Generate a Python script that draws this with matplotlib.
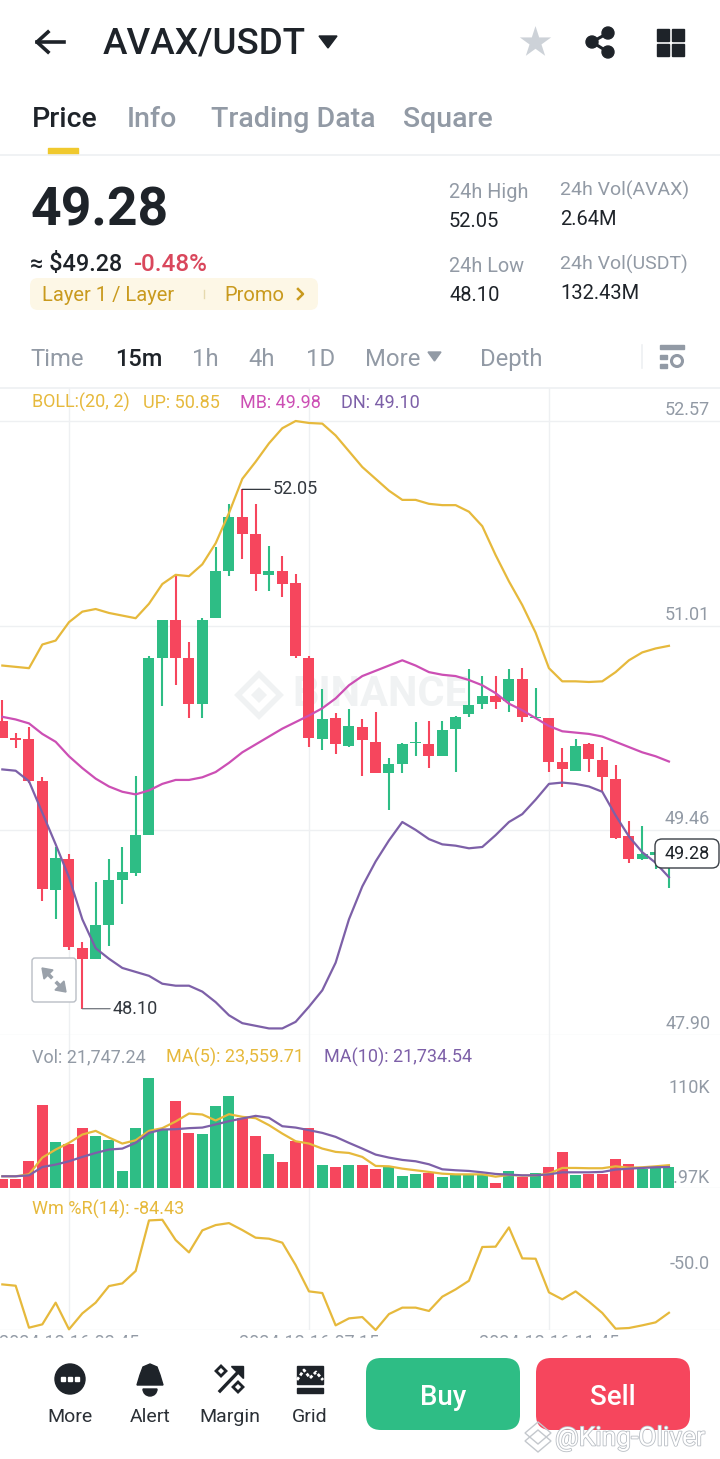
#!/usr/bin/env python3
"""AVAX/USDT 15m candle screen with BOLL, volume and Williams %R panels."""

import matplotlib
matplotlib.use("Agg")
import matplotlib.pyplot as plt
import matplotlib.patheffects as pe
from matplotlib.patches import Circle, FancyBboxPatch, Polygon, Rectangle, Wedge

plt.rcParams["font.family"] = ["Roboto", "DejaVu Sans"]

GREEN = "#2EBD85"
RED = "#F6465D"
YELLOW = "#E6B93C"
PINK = "#CC4FB4"
PURPLE = "#7D60A8"
DARK = "#1E2329"
GREY = "#929AA5"
GRID = "#EEF0F2"

# candles
opens = [50.29, 50.16, 50.15, 49.83, 49.00, 49.24, 48.56, 48.48, 48.74, 49.08,
         49.13, 49.42, 50.77, 51.06, 50.77, 50.42, 51.07, 51.43, 51.84, 51.71,
         51.40, 51.43, 51.34, 50.77, 50.15, 50.31, 50.10, 50.24, 50.13, 49.89,
         49.96, 50.12, 50.11, 50.02, 50.23, 50.34, 50.42, 50.48, 50.44, 50.61,
         50.31, 50.31, 49.98, 49.91, 50.11, 49.99, 49.85, 49.41, 49.24, 49.27,
         49.27]
closes = [50.16, 50.14, 49.83, 49.01, 49.25, 48.57, 48.48, 48.74, 49.08, 49.14,
          49.42, 50.77, 51.06, 50.77, 50.42, 51.06, 51.43, 51.84, 51.71, 51.41,
          51.43, 51.33, 50.78, 50.16, 50.30, 50.11, 50.25, 50.14, 49.89, 49.96,
          50.11, 50.13, 50.02, 50.22, 50.32, 50.41, 50.48, 50.43, 50.61, 50.32,
          50.32, 49.98, 49.92, 50.10, 50.00, 49.86, 49.40, 49.24, 49.28, 49.29,
          49.28]
highs = [50.45, 50.20, 50.24, 49.86, 49.33, 49.28, 48.61, 49.06, 49.24, 49.33,
         49.87, 50.78, 51.06, 51.39, 50.89, 51.07, 51.61, 51.94, 52.05, 51.94,
         51.62, 51.54, 51.41, 50.78, 50.53, 50.35, 50.38, 50.30, 50.36, 50.01,
         50.12, 50.28, 50.29, 50.29, 50.33, 50.68, 50.63, 50.63, 50.68, 50.69,
         50.54, 50.31, 50.08, 50.15, 50.12, 50.09, 49.95, 49.53, 49.49, 49.32,
         49.30]
lows = [50.16, 50.08, 49.82, 48.92, 48.78, 48.55, 48.10, 48.48, 48.58, 48.90,
        49.11, 49.42, 50.40, 50.56, 50.31, 50.31, 51.07, 51.39, 51.52, 51.28,
        51.28, 51.23, 50.77, 50.09, 50.07, 50.04, 50.09, 49.87, 49.89, 49.61,
        49.89, 50.02, 49.93, 50.02, 49.90, 50.32, 50.38, 50.38, 50.36, 50.28,
        50.31, 49.90, 49.79, 49.91, 49.90, 49.75, 49.39, 49.21, 49.23, 49.16,
        49.02]

# bollinger bands
boll_up = [50.71, 50.70, 50.69, 50.87, 50.90, 51.04, 51.12, 51.14, 51.11, 51.09,
           51.07, 51.18, 51.33, 51.40, 51.39, 51.48, 51.64, 51.87, 52.13, 52.26,
           52.40, 52.515, 52.57, 52.555, 52.55, 52.46, 52.34, 52.22, 52.13, 52.04,
           51.97, 51.97, 51.94, 51.93, 51.93, 51.88, 51.77, 51.55, 51.35, 51.17,
           50.96, 50.69, 50.59, 50.59, 50.585, 50.59, 50.66, 50.75, 50.81, 50.84,
           50.86]
boll_mb = [50.32, 50.30, 50.27, 50.19, 50.13, 50.02, 49.93, 49.85, 49.79, 49.75,
           49.73, 49.76, 49.81, 49.84, 49.84, 49.86, 49.90, 49.97, 50.05, 50.11,
           50.17, 50.23, 50.28, 50.33, 50.385, 50.46, 50.56, 50.63, 50.67, 50.71,
           50.75, 50.71, 50.66, 50.64, 50.63, 50.60, 50.56, 50.50, 50.42, 50.37,
           50.31, 50.25, 50.21, 50.20, 50.19, 50.17, 50.13, 50.09, 50.05, 50.02,
           49.98]
boll_dn = [49.92, 49.91, 49.83, 49.59, 49.35, 49.10, 48.78, 48.56, 48.48, 48.41,
           48.38, 48.35, 48.29, 48.275, 48.275, 48.23, 48.15, 48.05, 47.99, 47.97,
           47.95, 47.95, 48.00, 48.115, 48.24, 48.45, 48.78, 49.03, 49.22, 49.38,
           49.52, 49.46, 49.39, 49.35, 49.34, 49.32, 49.33, 49.42, 49.52, 49.58,
           49.69, 49.81, 49.82, 49.81, 49.79, 49.75, 49.57, 49.41, 49.29, 49.21,
           49.10]

# volume, in thousands
volume = [9.7, 9.7, 27.9, 85.6, 47.6, 45.2, 62.1, 53.5, 49.3, 17.3,
          61.8, 113.9, 59.7, 89.4, 57.3, 55.5, 84.2, 95.2, 71.8, 54.2,
          35.5, 26.6, 48.6, 61.8, 23.5, 22.1, 23.5, 23.8, 20.0, 21.4,
          12.4, 14.8, 15.9, 11.0, 13.8, 13.1, 13.1, 5.5, 17.3, 11.4,
          15.9, 21.7, 36.9, 13.5, 14.1, 14.5, 30.4, 24.5, 20.0, 20.7,
          21.7]
vol_ma5 = [12.1, 12.1, 14.1, 31.4, 39.7, 46.6, 55.2, 59.0, 52.1, 45.9,
           49.3, 59.0, 61.8, 68.7, 76.9, 75.9, 69.7, 76.2, 73.5, 72.1,
           64.9, 56.2, 48.3, 45.9, 40.7, 37.3, 36.2, 32.1, 22.8, 22.4,
           20.0, 18.3, 16.6, 14.8, 14.1, 14.1, 14.1, 11.7, 13.5, 12.8,
           13.1, 14.8, 20.7, 20.7, 20.4, 20.4, 22.4, 21.0, 21.4, 22.4,
           23.6]
vol_ma10 = [12.1, 12.1, 13.1, 21.7, 24.2, 27.6, 32.1, 36.2, 39.7, 40.7,
            46.6, 56.9, 60.4, 60.7, 61.8, 62.4, 65.6, 69.0, 71.8, 74.5,
            72.5, 63.8, 62.4, 59.7, 56.9, 52.8, 46.6, 40.7, 34.5, 31.4,
            29.0, 27.6, 24.5, 19.3, 18.3, 17.6, 16.2, 14.5, 13.8, 13.1,
            13.1, 14.1, 16.2, 16.2, 16.2, 16.6, 19.0, 20.0, 20.7, 21.4,
            21.7]

# williams %R
wm_r = [-58.8, -60.0, -97.9, -94.9, -75.3, -99.4, -85.0, -75.3, -60.3, -57.9,
        -46.7, -1.0, -0.4, -18.7, -29.9, -10.0, -5.2, -3.4, -9.7, -16.6,
        -17.5, -21.1, -41.3, -65.1, -66.6, -95.8, -89.5, -88.3, -100.0, -85.6,
        -79.8, -79.8, -82.8, -69.9, -63.3, -55.5, -25.0, -24.7, -7.3, -35.3,
        -35.6, -66.0, -72.3, -65.1, -74.4, -84.6, -98.8, -98.2, -95.8, -93.1,
        -84.43]

price_ticks = [52.57, 51.01, 49.46, 47.90]
time_idx = [5, 23, 41]
time_labels = ["2024-12-16 02:45", "2024-12-16 07:15", "2024-12-16 11:45"]
tabs = ["Price", "Info", "Trading Data", "Square"]
intervals = ["Time", "15m", "1h", "4h", "1D", "More", "Depth"]

W, H = 720, 1459
xs = list(range(len(closes)))
colors = [GREEN if c >= o else RED for o, c in zip(opens, closes)]
XLIM = (-0.175, 53.83)
LABEL_X = 710 / 13.33 - 0.175


def panel(fig, top, bottom):
    """Full-width axes between two pixel rows."""
    ax = fig.add_axes([0, (H - bottom) / H, 1, (bottom - top) / H])
    ax.set_xlim(*XLIM)
    ax.set_xticks(time_idx)
    ax.set_xticklabels([])
    ax.tick_params(length=0)
    ax.grid(True, color=GRID, linewidth=1.0)
    ax.set_axisbelow(True)
    for spine in ax.spines.values():
        spine.set_visible(False)
    return ax


def txt(x, y, s, size=14, color=DARK, weight="normal", ha="left", **kw):
    # va=center sits a bit high for these fonts
    return ui.text(x, y + 1.5, s, fontsize=size, color=color, fontweight=weight,
                   ha=ha, va="center", **kw)


def rbox(x0, y0, x1, y1, r, **kw):
    box = FancyBboxPatch((x0 + r, y0 + r), x1 - x0 - 2 * r, y1 - y0 - 2 * r,
                         boxstyle=f"round,pad={r},rounding_size={r}", **kw)
    ui.add_patch(box)
    return box


fig = plt.figure(figsize=(W / 100, H / 100), dpi=100, facecolor="white")

# price panel
ax = panel(fig, 388, 1035)
ax.set_ylim(47.90, 52.821)
ax.set_yticks(price_ticks)
ax.set_yticklabels([])
ax.vlines(xs, lows, highs, colors=colors, linewidth=1.5, zorder=2)
ax.bar(xs, [c - o for o, c in zip(opens, closes)], bottom=opens, width=0.825,
       color=colors, zorder=3)
ax.plot(xs, boll_up, color=YELLOW, linewidth=1.6, zorder=4)
ax.plot(xs, boll_mb, color=PINK, linewidth=1.6, zorder=4)
ax.plot(xs, boll_dn, color=PURPLE, linewidth=1.6, zorder=4)
for tick in price_ticks:
    ax.annotate(f"{tick:.2f}", xy=(1, tick), xycoords=("axes fraction", "data"),
                xytext=(-7, 8), textcoords="offset points", ha="right",
                va="center", fontsize=13, color=GREY, zorder=1)

hi_i = highs.index(max(highs))
lo_i = lows.index(min(lows))
ax.annotate(f"{highs[hi_i]:.2f}", xy=(hi_i, highs[hi_i]), xytext=(22, 0),
            textcoords="offset points", ha="left", va="center", fontsize=13,
            color="#33383F", zorder=5,
            arrowprops=dict(arrowstyle="-", color="#33383F", linewidth=0.9,
                            shrinkA=0, shrinkB=0))
ax.annotate(f"{lows[lo_i]:.2f}", xy=(lo_i, lows[lo_i]), xytext=(22, 0),
            textcoords="offset points", ha="left", va="center", fontsize=13,
            color="#33383F", zorder=5,
            arrowprops=dict(arrowstyle="-", color="#6F747B", linewidth=0.9,
                            shrinkA=0, shrinkB=0))

# volume panel
vax = panel(fig, 1035, 1188)
vax.set_ylim(0, 158)
vax.set_yticks([0])
vax.set_yticklabels([])
vax.bar(xs, volume, width=0.825, color=colors, zorder=3)
vax.plot(xs, vol_ma5, color=YELLOW, linewidth=1.6, zorder=4)
vax.plot(xs, vol_ma10, color=PURPLE, linewidth=1.6, zorder=5)
vax.text(LABEL_X, 103, "110K", ha="right", va="center", fontsize=13, color=GREY, zorder=1)
vax.text(LABEL_X, 10.5, "5.97K", ha="right", va="center", fontsize=13, color=GREY, zorder=1)

# williams panel
wax = panel(fig, 1188, 1330)
wax.set_ylim(-100, 28.3)
wax.set_yticks([-100])
wax.set_yticklabels([])
wax.plot(xs, wm_r, color=YELLOW, linewidth=1.6, clip_on=False, zorder=4)
wax.text(LABEL_X, -40, "-50.0", ha="right", va="center", fontsize=13, color=GREY, zorder=1)

# overlay in pixel coordinates for the app chrome
ui = fig.add_axes([0, 0, 1, 1], zorder=10)
ui.set_xlim(0, W)
ui.set_ylim(H, 0)
ui.axis("off")
ui.patch.set_alpha(0)

# faint exchange mark behind the candles
ax.text(380, 695, "BINANCE", transform=ui.transData, fontsize=30, fontweight="bold",
        color="#F0F2F3", ha="center", va="center", zorder=1)
ax.add_patch(Polygon([(259, 674), (280, 695), (259, 716), (238, 695)], closed=True,
                     facecolor="none", edgecolor="#F0F2F3", linewidth=4,
                     transform=ui.transData, zorder=1))
ax.add_patch(Polygon([(259, 687), (267, 695), (259, 703), (251, 695)], closed=True,
                     facecolor="#F0F2F3", transform=ui.transData, zorder=1))

# header
ui.plot([37, 64], [42, 42], color=DARK, linewidth=2.6)
ui.plot([48, 37, 48], [32, 42, 52], color=DARK, linewidth=2.6)
txt(103, 43, "AVAX/USDT", size=26.5, weight="medium")
ui.add_patch(Polygon([(319, 36), (337, 36), (328, 48)], closed=True, color=DARK))
ui.scatter([535], [42], marker="*", s=560, color="#CDD2D8", linewidths=0)
ui.plot([608, 592, 608], [33, 42, 52], color=DARK, linewidth=2.2)
for cx, cy in [(592, 42), (608, 33), (608, 52)]:
    ui.add_patch(Circle((cx, cy), 6, color=DARK))
for sx, sy in [(657, 29), (672, 29), (657, 44), (672, 44)]:
    ui.add_patch(Rectangle((sx, sy), 11.5, 11.5, color=DARK))

# tabs
for label, x, col in zip(tabs, [32, 127, 211, 403], [DARK, GREY, GREY, GREY]):
    txt(x, 118, label, size=20.5, color=col, weight="medium")
ui.add_patch(Rectangle((48, 148), 30, 6, color="#F0C92E"))
ui.plot([0, W], [154.5, 154.5], color=GRID, linewidth=1.2)

# quote block
txt(31, 210, "49.28", size=38.5, weight="bold")
txt(30, 263, "≈ $49.28", size=16.8, weight="medium")
txt(133, 263, "-0.48%", size=17.5, color="#D9475C", weight="medium")
rbox(30, 278, 318, 310, 8, facecolor="#FDF7E6", edgecolor="none")
txt(42, 294, "Layer 1 / Layer", size=14.5, color="#C99A1E")
ui.plot([204, 204], [290, 298], color="#E6D9AE", linewidth=1)
txt(224, 294, "Promo", size=14.5, color="#C99A1E")
ui.plot([298, 303, 298], [289, 294, 299], color="#C99A1E", linewidth=1.8)

txt(449, 191, "24h High", size=14.3, color=GREY)
txt(449, 220, "52.05", size=14.5)
txt(449, 265, "24h Low", size=14.3, color=GREY)
txt(449, 294, "48.10", size=14.5)
txt(560, 189, "24h Vol(AVAX)", size=14, color=GREY)
txt(560, 218, "2.64M", size=14.5)
txt(560, 263, "24h Vol(USDT)", size=14, color=GREY)
txt(560, 292, "132.43M", size=14.5)

# interval row
for label, x in zip(intervals, [30, 115, 192, 248, 306, 365, 480]):
    if label == "15m":
        txt(x, 358, label, size=17, weight="medium")
    else:
        txt(x, 358, label, size=17.2, color=GREY)
ui.add_patch(Polygon([(428, 352), (441, 352), (434.5, 361)], closed=True, color=GREY))
ui.plot([642, 642], [345, 368], color=GRID, linewidth=1.2)
ui.add_patch(Rectangle((660, 345), 24, 3.5, color=GREY))
ui.add_patch(Rectangle((660, 355), 7, 3.5, color=GREY))
ui.add_patch(Rectangle((660, 364), 7, 3.5, color=GREY))
ui.add_patch(Circle((677, 361), 5.5, fill=False, edgecolor=GREY, linewidth=2.2))
ui.plot([0, W], [387.5, 387.5], color=GRID, linewidth=1.2)

# legends
for x, y, s, col in [(32, 401, "BOLL:(20, 2)", YELLOW), (143, 401, "UP: 50.85", YELLOW),
                     (240, 401, "MB: 49.98", PINK), (341, 401, "DN: 49.10", PURPLE),
                     (32, 1056, "Vol: 21,747.24", GREY),
                     (166, 1056, "MA(5): 23,559.71", YELLOW),
                     (324, 1056, "MA(10): 21,734.54", PURPLE),
                     (32, 1208, "Wm %R(14): -84.43", YELLOW)]:
    txt(x, y, s, size=13, color=col)

# last price tag and expand button
rbox(655, 839, 719, 868, 7, facecolor="white", edgecolor="#3A3F46", linewidth=1)
txt(687, 852.5, "49.28", size=13, ha="center")
rbox(32, 958, 76, 1002, 3, facecolor="white", edgecolor="#B9BEC5", linewidth=1)
ui.plot([46, 51], [972, 977], color="#9AA1AA", linewidth=2.6)
ui.plot([57, 62], [983, 988], color="#9AA1AA", linewidth=2.6)
ui.add_patch(Polygon([(42, 968), (53, 970), (44, 979)], closed=True, color="#9AA1AA"))
ui.add_patch(Polygon([(66, 992), (55, 990), (64, 981)], closed=True, color="#9AA1AA"))

# clipped time labels under the last panel
for i, label in zip(time_idx, time_labels):
    txt(2.33 + 13.33 * i, 1342, label, size=13, color=GREY, ha="center")
ui.add_patch(Rectangle((0, 1338), W, H - 1338, color="white", zorder=3))

# bottom bar
Z = 4
ui.add_patch(Circle((70, 1379), 15, color=DARK, zorder=Z))
for dx in (-7, 0, 7):
    ui.add_patch(Rectangle((70 + dx - 1.7, 1377.3), 3.4, 3.4, color="white", zorder=Z + 1))
ui.add_patch(Polygon([(137, 1385), (140, 1375), (143, 1367), (150, 1364), (157, 1367),
                      (160, 1375), (163, 1385)], closed=True, color=DARK, zorder=Z))
ui.add_patch(Wedge((150, 1389), 7, 0, 180, color=DARK, zorder=Z))
ui.plot([220, 241], [1391, 1369], color=DARK, linewidth=2.4, zorder=Z)
ui.add_patch(Polygon([(231, 1366), (243, 1366), (243, 1378)], closed=True, color=DARK, zorder=Z))
for cx, cy in [(221, 1371), (238, 1387)]:
    ui.add_patch(Polygon([(cx - 5, cy), (cx, cy - 5), (cx + 5, cy), (cx, cy + 5)],
                         closed=True, facecolor="white", edgecolor=DARK, linewidth=2, zorder=Z))
ui.add_patch(Rectangle((297, 1366), 26, 18, color=DARK, zorder=Z))
ui.plot([297, 304, 310, 316, 323], [1380, 1370, 1378, 1372, 1380], color="white",
        linewidth=2, linestyle=(0, (1.2, 0.8)), zorder=Z + 1)
ui.add_patch(Rectangle((297, 1388), 26, 4.5, color=DARK, zorder=Z))
for label, x in zip(["More", "Alert", "Margin", "Grid"], [70, 150, 230, 310]):
    t = txt(x, 1415, label, size=14, ha="center", color="#2B3036")
    t.set_zorder(Z)

rbox(366, 1358, 520, 1430, 15, facecolor=GREEN, edgecolor="none", zorder=Z)
rbox(536, 1358, 690, 1430, 15, facecolor=RED, edgecolor="none", zorder=Z)
t = txt(443, 1396, "Buy", size=20, color="white", weight="medium", ha="center")
t.set_zorder(Z + 1)
t = txt(613, 1396, "Sell", size=20, color="white", weight="medium", ha="center")
t.set_zorder(Z + 1)

# repost watermark
t = txt(555, 1437, "@King-Oliver", size=19, color="white")
t.set_zorder(Z + 2)
t.set_path_effects([pe.withStroke(linewidth=1.2, foreground="#B9BEC4")])
for dy in (-4, 4):
    ui.add_patch(Polygon([(525, 1437 + dy), (538, 1426 + dy), (551, 1437 + dy), (538, 1448 + dy)],
                         closed=True, fill=False, edgecolor="#C4C8CD", linewidth=1.0, zorder=Z + 2))

fig.savefig("out.png", dpi=100)
